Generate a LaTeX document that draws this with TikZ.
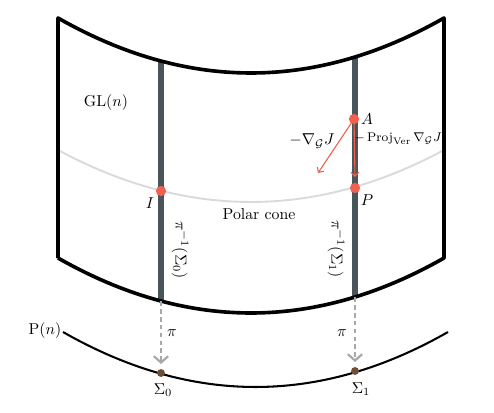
\documentclass[tikz,border=0pt]{standalone}
\usepackage{amsmath}
\usetikzlibrary{arrows.meta}
\definecolor{fibercol}{HTML}{48555A}
\definecolor{redpt}{HTML}{F2604E}
\definecolor{conegray}{HTML}{DADADA}
\definecolor{dashgray}{HTML}{A8A8A8}
\definecolor{brownpt}{HTML}{6E4E35}
\tikzset{
  outline/.style={line width=2.3pt, line join=round},
  fiber/.style={line width=3.2pt, fibercol},
  conecurve/.style={line width=1.2pt, conegray},
  projarrow/.style={line width=1.4pt, dashgray, dash pattern=on 3pt off 2pt, -{Straight Barb[length=4pt,width=9pt,line width=1.4pt]}},
  redarrow/.style={line width=0.7pt, redpt, -{Straight Barb[length=2.5pt,width=5pt]}},
  redpoint/.style={circle, fill=redpt, inner sep=0pt, minimum size=6.5pt},
  brownpoint/.style={circle, fill=brownpt, inner sep=0pt, minimum size=5pt},
  lbl/.style={inner sep=1pt}
}
\begin{document}
\begin{tikzpicture}[x=0.633pt, y=-0.633pt]
\useasboundingbox (0,0) rectangle (494,412);
% polar cone curve
\draw[conecurve] (58,150) .. controls (186.7,219.3) and (315.3,219.3) .. (444,150);
% fibers
\coordinate (f0t) at (161,61);
\coordinate (f0b) at (161,301);
\coordinate (f1t) at (355,57);
\coordinate (f1b) at (355,297);
\draw[fiber] (f0t) -- (f0b);
\draw[fiber] (f1t) -- (f1b);
% GL(n) sheet outline
\draw[outline] (58,258) -- (58,18) .. controls (186.7,91.3) and (315.3,91.3) .. (444,18) -- (444,258)
  .. controls (315.3,331.3) and (186.7,331.3) .. (58,258);
% P(n) curve
\draw[line width=1.3pt] (63,332) .. controls (191.3,405.3) and (319.7,405.3) .. (448,332);
% points on P(n)
\node[brownpoint] (S0) at (161,373) {};
\node[brownpoint] (S1) at (355,371) {};
% projection arrows
\draw[projarrow] (f0b) -- ([yshift=3pt]S0.north);
\draw[projarrow] (f1b) -- ([yshift=3pt]S1.north);
% red arrows
\coordinate (g1) at (318,173);
\coordinate (g2) at (355,177);
\node[redpoint] (A) at (354,119) {};
\draw[redarrow] (A.center) -- (g1);
\draw[redarrow] (A.center) -- (g2);
\node[redpoint] (I) at (161,191) {};
\node[redpoint] (P) at (355,188) {};
% labels
\node[lbl] (lA) at (367,119) {$A$};
\node[lbl] (lI) at (150,203) {$I$};
\node[lbl] (lP) at (367,200) {$P$};
\node[lbl] (lg) at (312,141) {$-\nabla_{\mathcal{G}} J$};
\node[lbl] (lpr) at (398,139) {\footnotesize $-\operatorname{Proj}_{\mathrm{Ver}}\nabla_{\mathcal{G}} J$};
\node[lbl] (lGL) at (106,103) {$\mathrm{GL}(n)$};
\node[lbl] (lPn) at (45,331) {$\mathrm{P}(n)$};
\node[lbl] (lcone) at (259,214) {Polar cone};
\node[lbl, rotate=-90] (lf0) at (180,250) {$\pi^{-1}(\Sigma_0)$};
\node[lbl, rotate=-90] (lf1) at (336,249) {$\pi^{-1}(\Sigma_1)$};
\node[lbl] (lpi0) at (172,333) {$\pi$};
\node[lbl] (lpi1) at (342,333) {$\pi$};
\node[lbl] (lS0) at (163,390) {$\Sigma_0$};
\node[lbl] (lS1) at (361,389) {$\Sigma_1$};
\end{tikzpicture}
\end{document}
